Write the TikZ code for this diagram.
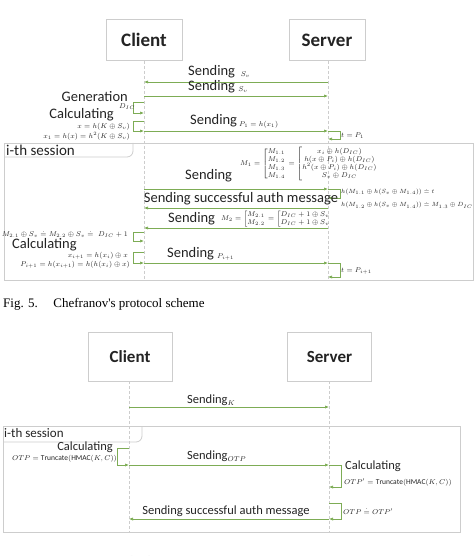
\documentclass[tikz,border=0pt]{standalone}
\usepackage{amsmath}
\usepackage{fontspec}
\setmainfont{Carlito}
\newfontfamily\capfont{Liberation Serif}
\usetikzlibrary{arrows.meta}
\definecolor{arr}{RGB}{125,172,85}
\definecolor{boxc}{RGB}{205,205,205}
\definecolor{txt}{RGB}{35,35,35}
\begin{document}
\begin{tikzpicture}[x=1pt,y=-1pt,
  actor/.style={draw=boxc, line width=0.8pt, minimum width=76pt, minimum height=41pt, inner sep=0pt, font=\fontsize{19}{22}\selectfont\bfseries, text=txt},
  actortwo/.style={actor, minimum width=84pt, minimum height=49pt, font=\fontsize{17}{20}\selectfont\bfseries},
  life/.style={draw=boxc, dash pattern=on 3pt off 2pt, line width=0.6pt},
  msg/.style={draw=arr, line width=0.7pt, -{Latex[length=4pt,width=3.2pt]}},
  frm/.style={draw=boxc, line width=0.8pt},
  lbl/.style={inner sep=0pt, text=txt, font=\fontsize{14.5}{16}\selectfont},
  lbltwo/.style={inner sep=0pt, text=txt, font=\fontsize{12.5}{14}\selectfont},
  mth/.style={inner sep=0pt, text=txt, font=\fontsize{7.5}{9}\selectfont},
  figcap/.style={inner sep=0pt, anchor=base west, text=black, font=\capfont\fontsize{13}{15}\selectfont}
]
\useasboundingbox (0,0) rectangle (474,556);
\clip (0,0) rectangle (474,556);

% ================= Figure 5 =================
\node[actor] (cl1) at (144,40) {Client};
\node[actor] (sv1) at (327,40) {Server};
\coordinate (cl1end) at (144,280);
\coordinate (sv1end) at (328,280);
\draw[life] (cl1.south) -- (cl1end);
\draw[life] (sv1.south -| sv1end) -- (sv1end);

% message coordinates
\coordinate (ca) at (144,82);  \coordinate (sa) at (328,82);
\coordinate (cb) at (144,96);  \coordinate (sb) at (328,96);
\coordinate (cg1) at (144,102); \coordinate (cg2) at (144,113);
\coordinate (cc1) at (144,121); \coordinate (cc) at (144,131); \coordinate (sc) at (328,131);
\coordinate (sc2) at (328,139);
\coordinate (cd) at (144,189); \coordinate (sd) at (328,189); \coordinate (sd2) at (328,198);
\coordinate (ce) at (144,208); \coordinate (se) at (328,208);
\coordinate (cf) at (144,228); \coordinate (sf) at (328,228);
\coordinate (cf1) at (144,232); \coordinate (cf2) at (144,241);
\coordinate (ch1) at (144,252); \coordinate (ch) at (144,263); \coordinate (sh) at (328,263);
\coordinate (sh2) at (328,277);

\draw[msg] (sa) -- (ca);
\draw[msg] (cb) -- (sb);
\draw[msg] (cg1) -- ++(-11,0) |- (cg2);
\draw[msg] (cc1) -- ++(-11,0) |- (cc);
\draw[msg] (cc) -- (sc);
\draw[msg] (sc) -- ++(12,0) |- (sc2);
\draw[msg] (cd) -- (sd);
\draw[msg] (sd) -- ++(12,0) |- (sd2);
\draw[msg] (se) -- (ce);
\draw[msg] (sf) -- (cf);
\draw[msg] (cf1) -- ++(-11,0) |- (cf2);
\draw[msg] (ch1) -- ++(-11,0) |- (ch);
\draw[msg] (ch) -- (sh);
\draw[msg] (sh) -- ++(12,0) |- (sh2);

\node[lbl, anchor=west] (l1) at (188,72) {Sending \,\raisebox{-1pt}{\fontsize{7.5}{9}\selectfont$S_v$}};
\node[lbl, anchor=west] (l2) at (188,87) {Sending \raisebox{-1pt}{\fontsize{7.5}{9}\selectfont$S_v$}};
\node[lbl, anchor=east] (gen) at (128,97) {Generation};
\node[lbl, anchor=east] (calc1) at (114,115) {Calculating};
\node[mth, anchor=west] (dic) at (119,107) {$D_{IC}$};
\node[mth, anchor=east] (xeq) at (130,127) {$x=h(K\oplus S_v)$};
\node[mth, anchor=east] (x1eq) at (130,136) {$x_1=h(x)=h^2(K\oplus S_v)$};
\node[lbl, anchor=west] (l3) at (190,121) {Sending};
\node[mth, anchor=west] (p1) at (239,125) {$P_1=h(x_1)$};
\node[mth, anchor=west] (tp1) at (341,136) {$t=P_1$};

% session frame
\draw[frm] (4,143) rectangle (473,280);
\draw[frm] (4,157) -- (127,157) arc[start angle=90, end angle=0, radius=6] -- (133,143);
\node[lbl, anchor=west, font=\fontsize{15}{17}\selectfont] (ses1) at (6,150) {i-th session};

\node[lbl, anchor=west] (l4) at (185,176) {Sending};
\node[mth, anchor=west, font=\fontsize{7}{8}\selectfont] (m1) at (240,164) {$M_1=\left[\begin{matrix}M_{1.1}\\ M_{1.2}\\ M_{1.3}\\ M_{1.4}\end{matrix}\right.=\left[\begin{matrix}x_i\oplus h(D_{IC})\\ h(x\oplus P_i)\oplus h(D_{IC})\\ h^2(x\oplus P_i)\oplus h(D_{IC})\\ S_v\oplus D_{IC}\end{matrix}\right.$};
\node[mth, anchor=west, font=\fontsize{6.2}{7.5}\selectfont] (chk1) at (341,192) {$h(M_{1.1}\oplus h(S_v\oplus M_{1.4}))\doteq t$};
\node[mth, anchor=west, font=\fontsize{6.2}{7.5}\selectfont] (chk2) at (341,205) {$h(M_{1.2}\oplus h(S_v\oplus M_{1.4}))\doteq M_{1.3}\oplus D_{IC}$};
\node[lbl] (succ1) at (241,199) {Sending successful auth message};
\node[lbl, anchor=west] (l5) at (168,219) {Sending};
\node[mth, anchor=west, font=\fontsize{6.6}{8}\selectfont] (m2) at (221,219) {$M_2=\left[\begin{matrix}M_{2.1}\\ M_{2.2}\end{matrix}\right.=\left[\begin{matrix}D_{IC}+1\oplus S_v\\ D_{IC}+1\oplus S_v\end{matrix}\right.$};
\node[mth, anchor=east] (m2chk) at (128,234) {$M_{2.1}\oplus S_v\doteq M_{2.2}\oplus S_v\doteq\; D_{IC}+1$};
\node[lbl, anchor=west] (calc2) at (12,245) {Calculating};
\node[mth, anchor=east] (xi1) at (128,256) {$x_{i+1}=h(x_i)\oplus x$};
\node[mth, anchor=east] (pi1) at (130,265) {$P_{i+1}=h(x_{i+1})=h(h(x_i)\oplus x)$};
\node[lbl, anchor=west] (l6) at (167,254) {Sending};
\node[mth, anchor=west] (pi1b) at (217,257) {$P_{i+1}$};
\node[mth, anchor=west] (tpi) at (341,271) {$t=P_{i+1}$};

\node[figcap] (cap5) at (3,307) {Fig. 5.\hspace{1.2em}Chefranov's protocol scheme};

% ================= Figure 6 =================
\node[actortwo] (cl2) at (130,356.5) {Client};
\node[actortwo] (sv2) at (329.5,356.5) {Server};
\coordinate (cl2end) at (129,532);
\coordinate (sv2end) at (329,532);
\draw[life] (cl2.south -| cl2end) -- (cl2end);
\draw[life] (sv2.south -| sv2end) -- (sv2end);

\coordinate (ck) at (129,407); \coordinate (sk) at (329,407);
\coordinate (co1) at (129,448); \coordinate (co) at (129,465); \coordinate (so) at (329,465);
\coordinate (so2) at (329,487);
\coordinate (sq1) at (329,503); \coordinate (sq) at (329,519); \coordinate (cq) at (129,519);

\draw[msg] (ck) -- (sk);
\draw[frm] (3,426) rectangle (460,532);
\draw[frm] (3,442) -- (136,442) arc[start angle=90, end angle=0, radius=6] -- (142,426);
\draw[msg] (co1) -- ++(-12,0) |- (co);
\draw[msg] (co) -- (so);
\draw[msg] (so) -- ++(12,0) |- (so2);
\draw[msg] (sq1) -- ++(12,0) |- (sq);
\draw[msg] (sq) -- (cq);

\node[lbltwo, anchor=west] (k1) at (187,400) {Sending\raisebox{-2pt}{\fontsize{7.5}{9}\selectfont$K$}};
\node[lbltwo, anchor=west, font=\fontsize{13}{15}\selectfont] (ses2) at (4,433) {i-th session};
\node[lbltwo, anchor=east] (calc3) at (113,447) {Calculating};
\node[mth, anchor=east] (otp1) at (117,459) {$OTP=\mathrm{Truncate}(\mathrm{HMAC}(K,C))$};
\node[lbltwo, anchor=west] (l7) at (187,456) {Sending\raisebox{-2pt}{\fontsize{7.5}{9}\selectfont$OTP$}};
\node[lbltwo, anchor=west] (calc4) at (345,466) {Calculating};
\node[mth, anchor=west] (otp2) at (344,482) {$OTP'=\mathrm{Truncate}(\mathrm{HMAC}(K,C))$};
\node[mth, anchor=west] (otp3) at (343,511) {$OTP\doteq OTP'$};
\node[lbltwo] (succ2) at (226,511) {Sending successful auth message};

\node[figcap] (cap6) at (3,565) {Fig. 6.\hspace{1.2em}HOTP protocol scheme};
\end{tikzpicture}
\end{document}
